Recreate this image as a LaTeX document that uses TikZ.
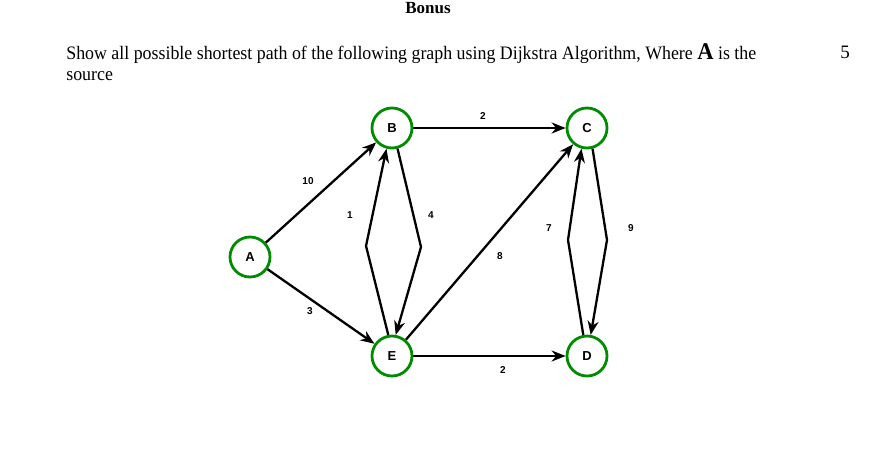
\documentclass[tikz,border=0pt]{standalone}
\usepackage{fontspec}
\setmainfont{Liberation Serif}
\setsansfont{Liberation Sans}
\usetikzlibrary{arrows.meta}
\begin{document}
\begin{tikzpicture}[x=1pt,y=-1pt,
  vert/.style={circle,draw=green!55!black,line width=2.8pt,fill=white,minimum size=40pt,inner sep=0pt,font=\sffamily\bfseries\fontsize{13}{15}\selectfont},
  edge/.style={line width=2.3pt,-{Stealth[length=14pt,width=11pt]}},
  wt/.style={font=\sffamily\bfseries\fontsize{10}{11}\selectfont}]
\useasboundingbox (0,0) rectangle (890,463);
\node[font=\bfseries\fontsize{17}{19}\selectfont] (title) at (428,8) {Bonus};
\node[anchor=west,font=\fontsize{19}{21}\selectfont,xscale=0.94] (q) at (63,54) {Show all possible shortest path of the following graph using Dijkstra Algorithm, Where {\bfseries\fontsize{24}{24}\selectfont A} is the};
\node[anchor=west,font=\fontsize{19}{21}\selectfont,xscale=0.94] (q2) at (63,76) {source};
\node[font=\fontsize{19}{21}\selectfont] (m) at (845,52) {5};
\node[vert] (A) at (250,257) {A};
\node[vert] (B) at (392,128) {B};
\node[vert] (C) at (587,128) {C};
\node[vert] (D) at (587,356) {D};
\node[vert] (E) at (392,356) {E};
\coordinate (eb) at (366,246);
\coordinate (be) at (421,247);
\coordinate (dc) at (568,240);
\coordinate (cd) at (607,240);
\draw[edge] (A) -- (B);
\draw[edge] (A) -- (E);
\draw[edge] (B) -- (C);
\draw[edge] (E) -- (D);
\draw[edge] (E) -- (C);
\draw[edge] (E.100) -- (eb) -- (B.255);
\draw[edge] (B.285) -- (be) -- (E.80);
\draw[edge] (D.100) -- (dc) -- (C.255);
\draw[edge] (C.285) -- (cd) -- (D.80);
\node[wt] (w1) at (308,181) {10};
\node[wt] (w2) at (310,311) {3};
\node[wt] (w3) at (483,116) {2};
\node[wt] (w4) at (350,215) {1};
\node[wt] (w5) at (431,215) {4};
\node[wt] (w6) at (500,256) {8};
\node[wt] (w7) at (549,228) {7};
\node[wt] (w8) at (631,228) {9};
\node[wt] (w9) at (503,370) {2};
\end{tikzpicture}
\end{document}
